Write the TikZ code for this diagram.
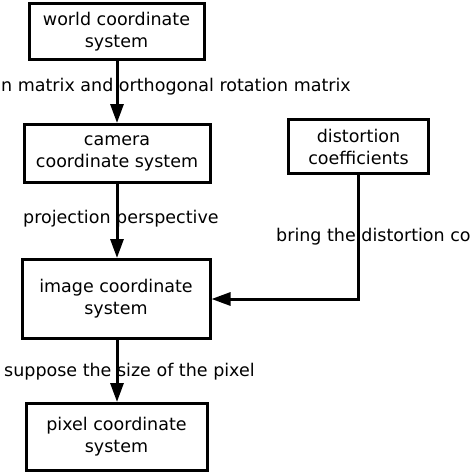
\documentclass[tikz,border=0pt]{standalone}
\usepackage{fontspec}
\setmainfont{DejaVu Sans}
\usetikzlibrary{arrows.meta}
\begin{document}
\begin{tikzpicture}[x=1pt,y=-1pt,
  every node/.style={font=\fontsize{17.5}{22}\selectfont},
  box/.style={draw, line width=3pt, align=center, inner sep=0pt},
  lbl/.style={anchor=west, inner sep=0pt},
  arr/.style={line width=3pt, -{Triangle[length=19pt,width=13pt]}}]
\useasboundingbox (0,0) rectangle (474,474);
\node[box, minimum width=175pt, minimum height=56pt] (world) at (116.5,31.5) {world coordinate\\system};
\node[box, minimum width=186pt, minimum height=58pt] (camera) at (117,153.5) {camera\\coordinate system};
\node[box, minimum width=140pt, minimum height=54pt] (dist) at (358.5,146.5) {distortion\\coefficients};
\node[box, minimum width=188pt, minimum height=79pt] (image) at (116,299) {image coordinate\\system};
\node[box, minimum width=181pt, minimum height=67pt] (pixel) at (116.5,437) {pixel coordinate\\system};
\draw[arr] (117,0 |- world.south) -- (117,0 |- camera.north);
\draw[arr] (117,0 |- camera.south) -- (117,0 |- image.north);
\draw[arr] (117,0 |- image.south) -- (117,0 |- pixel.north);
\draw[arr] (dist.south) |- (image.east);
\node[lbl] (l1) at (1,87) {n matrix and orthogonal rotation matrix};
\node[lbl] (l2) at (23,219) {projection perspective};
\node[lbl] (l3) at (276,237) {bring the distortion co};
\node[lbl] (l4) at (4,372) {suppose the size of the pixel};
\end{tikzpicture}
\end{document}
